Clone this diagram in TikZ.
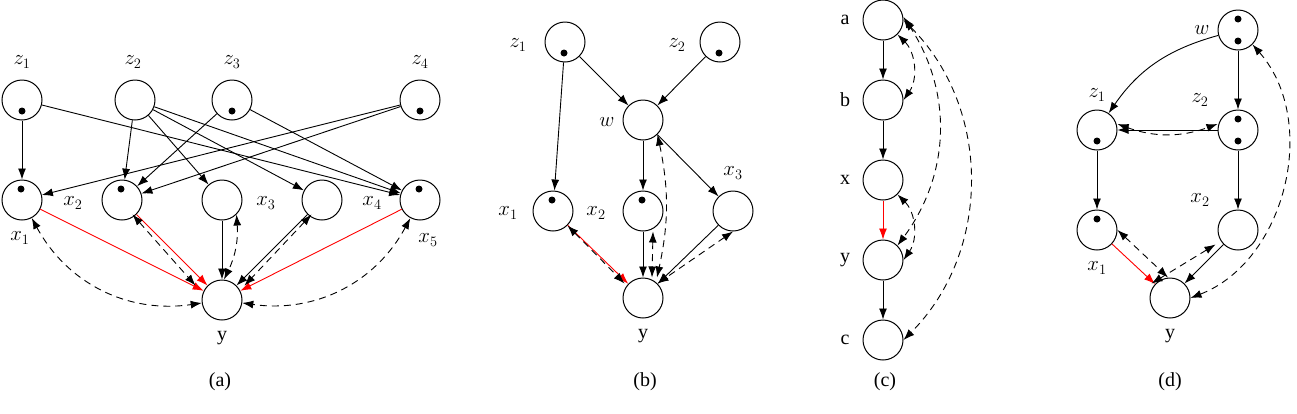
\documentclass[tikz,border=0pt]{standalone}
\usepackage{fontspec}
\setmainfont{Liberation Serif}
\usetikzlibrary{arrows.meta}
\begin{document}
\begin{tikzpicture}[x=1pt,y=-1pt,
  v/.style={circle,draw,line width=1pt,minimum size=40pt,inner sep=0pt},
  lb/.style={font=\fontsize{20}{22}\selectfont},
  e/.style={-{Latex[length=11pt,width=8pt]},line width=0.9pt},
  r/.style={e,red},
  d/.style={{Latex[length=11pt,width=8pt]}-{Latex[length=11pt,width=8pt]},line width=0.9pt,dash pattern=on 7pt off 5pt},
  dot/.style={fill=black}]
\useasboundingbox (0,0) rectangle (1297,413);
% ---------- (a)
\node[v] (z1) at (22,100) {}; \node[v] (z2) at (135,100) {}; \node[v] (z3) at (232,100) {}; \node[v] (z4) at (420,100) {};
\node[v] (x1) at (22,200) {}; \node[v] (x2) at (122,200) {}; \node[v] (x3) at (222,200) {}; \node[v] (x4) at (322,200) {}; \node[v] (x5) at (420,200) {};
\node[v] (y) at (222,300) {};
\foreach \n in {z1,z3,z4} \fill[dot] ([yshift=-11pt]\n.center) circle (3.5pt);
\foreach \n in {x1,x2,x5} \fill[dot] ([yshift=11pt,xshift=-1pt]\n.center) circle (3.5pt);
\node[lb] (lz1) at (22,62) {$z_1$}; \node[lb] (lz2) at (133,62) {$z_2$}; \node[lb] (lz3) at (232,62) {$z_3$}; \node[lb] (lz4) at (420,62) {$z_4$};
\node[lb] (lx1) at (20,238) {$x_1$}; \node[lb] (lx2) at (73,203) {$x_2$}; \node[lb] (lx3) at (266,203) {$x_3$}; \node[lb] (lx4) at (372,203) {$x_4$}; \node[lb] (lx5) at (428,240) {$x_5$};
\node[lb] (ly) at (222,338) {y}; \node[lb] (ca) at (220,382) {(a)};
\draw[e] (z1)--(x1); \draw[e] (z1)--(x5); \draw[e] (z2)--(x2); \draw[e] (z2)--(x3); \draw[e] (z2)--(x4); \draw[e] (z2)--(x5);
\draw[e] (z3)--(x2); \draw[e] (z3)--(x5); \draw[e] (z4)--(x1); \draw[e] (z4)--(x2);
\draw[r] (x1)--(y); \draw[r] (x2)--(y); \draw[e] (x3)--(y); \draw[e] (x4)--(y); \draw[r] (x5)--(y);
\draw[d] (x1) to[bend right=35] (y); \draw[d] (x5) to[bend left=35] (y);
\draw[d] ([xshift=-4pt]x2.south east) -- ([xshift=-12pt]y.north west);
\draw[d] (x3.south east) to[bend left=15] ([xshift=2pt]y.north);
\draw[d] ([xshift=4pt]x4.south west) -- ([xshift=8pt]y.north east);
% ---------- (b)
\node[v] (bz1) at (565,42) {}; \node[v] (bz2) at (720,42) {}; \node[v] (bw) at (643,120) {};
\node[v] (bx1) at (553,211) {}; \node[v] (bx2) at (643,211) {}; \node[v] (bx3) at (733,211) {}; \node[v] (by) at (643,298) {};
\foreach \n in {bz1,bz2} \fill[dot] ([yshift=-11pt,xshift=-1pt]\n.center) circle (3.5pt);
\foreach \n in {bx1,bx2} \fill[dot] ([yshift=11pt,xshift=-1pt]\n.center) circle (3.5pt);
\node[lb] (blz1) at (518,45) {$z_1$}; \node[lb] (blz2) at (677,45) {$z_2$}; \node[lb] (blw) at (607,122) {$w$};
\node[lb] (blx1) at (508,213) {$x_1$}; \node[lb] (blx2) at (596,213) {$x_2$}; \node[lb] (blx3) at (733,173) {$x_3$};
\node[lb] (bly) at (643,336) {y}; \node[lb] (cb) at (645,382) {(b)};
\draw[e] (bz1)--(bw); \draw[e] (bz2)--(bw); \draw[e] (bz1)--(bx1); \draw[e] (bw)--(bx2); \draw[e] (bw)--(bx3);
\draw[r] (bx1)--(by); \draw[e] (bx2)--(by); \draw[e] (bx3)--(by);
\draw[d] (bx1.south east) -- ([xshift=-4pt]by.north west);
\draw[d] ([xshift=10pt]bx2.south) -- ([xshift=9pt]by.north);
\draw[d] (bw.south east) to[bend left=12] ([xshift=14pt]by.north);
\draw[d] (bx3.south) -- (by.north east);
% ---------- (c)
\node[v] (ca1) at (883,20) {}; \node[v] (cb1) at (883,100) {}; \node[v] (cx) at (883,180) {}; \node[v] (cy) at (883,260) {}; \node[v] (cc) at (883,340) {};
\node[lb] (la) at (845,20) {a}; \node[lb] (lb1) at (845,100) {b}; \node[lb] (lx) at (845,180) {x}; \node[lb] (lyc) at (845,260) {y}; \node[lb] (lc) at (845,340) {c};
\node[lb] (cc1) at (885,382) {(c)};
\draw[e] (ca1)--(cb1); \draw[e] (cb1)--(cx); \draw[r] (cx)--(cy); \draw[e] (cy)--(cc);
\draw[d] (ca1.south east) to[bend left=40] (cb1.east);
\draw[d] (cx.south east) to[bend left=40] (cy.east);
\draw[d] ([yshift=3pt]ca1.east) to[bend left=35] (cy.north east);
\draw[d] (ca1.east) to[bend left=45] (cc.east);
% ---------- (d)
\node[v] (dw) at (1238,30) {}; \node[v] (dz1) at (1097,130) {}; \node[v] (dz2) at (1238,130) {};
\node[v] (dx1) at (1097,230) {}; \node[v] (dx2) at (1238,230) {}; \node[v] (dy) at (1170,298) {};
\foreach \n in {dw,dz2} {\fill[dot] ([yshift=-11pt]\n.center) circle (3.5pt); \fill[dot] ([yshift=11pt]\n.center) circle (3.5pt);}
\fill[dot] ([yshift=-11pt]dz1.center) circle (3.5pt);
\fill[dot] ([yshift=11pt]dx1.center) circle (3.5pt);
\node[lb] (dlw) at (1202,30) {$w$}; \node[lb] (dlz1) at (1097,95) {$z_1$}; \node[lb] (dlz2) at (1200,100) {$z_2$};
\node[lb] (dlx2) at (1200,200) {$x_2$}; \node[lb] (dlx1) at (1097,268) {$x_1$};
\node[lb] (dly) at (1170,336) {y}; \node[lb] (cd) at (1170,382) {(d)};
\draw[e] (dw) to[bend right=20] (dz1); \draw[e] (dw)--(dz2); \draw[e] (dz2)--(dz1);
\draw[e] (dz1)--(dx1); \draw[e] (dz2)--(dx2);
\draw[r] (dx1)--(dy); \draw[e] (dx2)--(dy);
\draw[d] ([yshift=6pt]dz1.east) to[bend right=20] ([yshift=6pt]dz2.west);
\draw[d] (dx1.east) -- ([xshift=-2pt]dy.north);
\draw[d] ([xshift=-8pt]dx2.south west) -- ([xshift=-4pt]dy.north west);
\draw[d] (dw.south east) to[bend left=55] (dy.east);
\end{tikzpicture}
\end{document}
